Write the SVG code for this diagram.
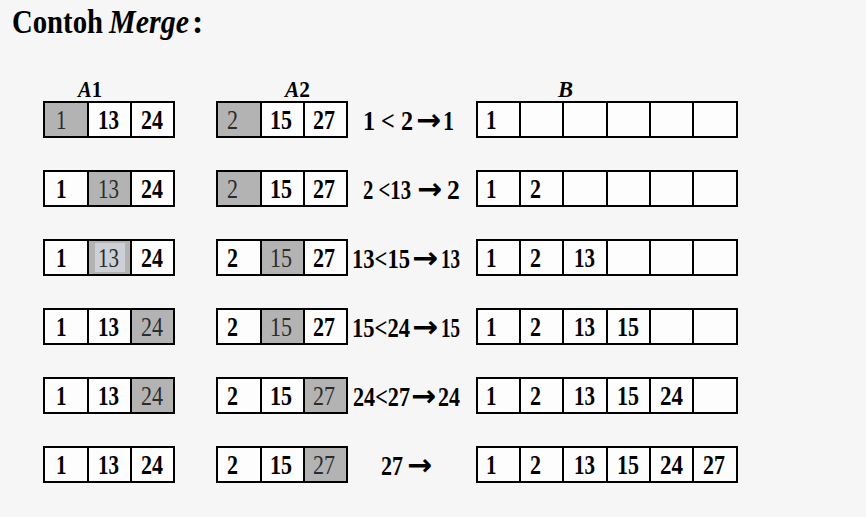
<svg xmlns="http://www.w3.org/2000/svg" width="866" height="517" viewBox="0 0 866 517">
<style>
.bg{fill:#f6f6f6}
.c{fill:#fdfdfd;stroke:#000;stroke-width:2}
.h{fill:#b3b3b3}
.hl{fill:#cdd1d5}
text{font-family:"Liberation Serif","Times New Roman",serif;}
.n{font-size:28px;font-weight:bold;fill:#000}
.g{font-size:28px;font-weight:normal;fill:#2b2b2b}
.cmp{font-size:28px;font-weight:bold;fill:#000}
.ar{font-family:"DejaVu Sans",sans-serif;font-size:30px;font-weight:bold;fill:#000}
.lab{font-size:23px;font-weight:bold;fill:#000}
.title{font-size:34px;font-weight:bold;fill:#000}
</style>
<rect class="bg" x="0" y="0" width="866" height="517"/>
<g id="title">
<text class="title" transform="translate(12 33) scale(0.84 1)" textLength="108.3" lengthAdjust="spacingAndGlyphs">Contoh</text>
<text class="title" transform="translate(109 33) scale(0.84 1)" textLength="95.2" lengthAdjust="spacingAndGlyphs" font-style="italic">Merge</text>
<text class="title" x="192" y="33">:</text>
</g>
<g id="labels">
<text class="lab" x="78" y="97" textLength="24" lengthAdjust="spacingAndGlyphs"><tspan font-style="italic">A</tspan>1</text>
<text class="lab" x="285" y="97" textLength="25" lengthAdjust="spacingAndGlyphs"><tspan font-style="italic">A</tspan>2</text>
<text class="lab" x="558" y="97" textLength="15" lengthAdjust="spacingAndGlyphs" font-style="italic">B</text>
</g>

<!-- Row 1 -->
<g id="row1-A1">
<rect class="c" x="44" y="102" width="44" height="35"/><rect class="c" x="88" y="102" width="43" height="35"/><rect class="c" x="131" y="102" width="43" height="35"/>
<rect class="h" x="45" y="103" width="42" height="33"/>
<text class="g" x="56" y="129" textLength="10.5" lengthAdjust="spacingAndGlyphs">1</text>
<text class="n" x="98" y="129" textLength="21" lengthAdjust="spacingAndGlyphs">13</text>
<text class="n" x="141" y="129" textLength="22" lengthAdjust="spacingAndGlyphs">24</text>
</g>
<g id="row1-A2">
<rect class="c" x="217" y="102" width="44" height="35"/><rect class="c" x="261" y="102" width="43" height="35"/><rect class="c" x="304" y="102" width="43" height="35"/>
<rect class="h" x="218" y="103" width="42" height="33"/>
<text class="g" x="227" y="129" textLength="11" lengthAdjust="spacingAndGlyphs">2</text>
<text class="n" x="270" y="129" textLength="22" lengthAdjust="spacingAndGlyphs">15</text>
<text class="n" x="313" y="129" textLength="22" lengthAdjust="spacingAndGlyphs">27</text>
</g>
<g id="cmp1">
<text class="cmp" transform="translate(363 130) scale(0.8 1)" textLength="62.5" lengthAdjust="spacingAndGlyphs">1 &lt; 2</text>
<text class="ar" x="416" y="130" textLength="25" lengthAdjust="spacingAndGlyphs">→</text>
<text class="cmp" transform="translate(443 130) scale(0.8 1)" textLength="13.8" lengthAdjust="spacingAndGlyphs">1</text>
</g>
<g id="row1-B">
<rect class="c" x="477" y="102" width="43" height="35"/><rect class="c" x="520" y="102" width="43" height="35"/><rect class="c" x="563" y="102" width="44" height="35"/><rect class="c" x="607" y="102" width="43" height="35"/><rect class="c" x="650" y="102" width="43" height="35"/><rect class="c" x="693" y="102" width="44" height="35"/>
<text class="n" x="486" y="129" textLength="10.5" lengthAdjust="spacingAndGlyphs">1</text>
</g>

<!-- Row 2 -->
<g id="row2-A1">
<rect class="c" x="44" y="171" width="44" height="35"/><rect class="c" x="88" y="171" width="43" height="35"/><rect class="c" x="131" y="171" width="43" height="35"/>
<rect class="h" x="89" y="172" width="41" height="33"/>
<text class="n" x="56" y="198" textLength="10.5" lengthAdjust="spacingAndGlyphs">1</text>
<text class="g" x="98" y="198" textLength="21" lengthAdjust="spacingAndGlyphs">13</text>
<text class="n" x="141" y="198" textLength="22" lengthAdjust="spacingAndGlyphs">24</text>
</g>
<g id="row2-A2">
<rect class="c" x="217" y="171" width="44" height="35"/><rect class="c" x="261" y="171" width="43" height="35"/><rect class="c" x="304" y="171" width="43" height="35"/>
<rect class="h" x="218" y="172" width="42" height="33"/>
<text class="g" x="227" y="198" textLength="11" lengthAdjust="spacingAndGlyphs">2</text>
<text class="n" x="270" y="198" textLength="22" lengthAdjust="spacingAndGlyphs">15</text>
<text class="n" x="313" y="198" textLength="22" lengthAdjust="spacingAndGlyphs">27</text>
</g>
<g id="cmp2">
<text class="cmp" transform="translate(363 199) scale(0.8 1)" textLength="60" lengthAdjust="spacingAndGlyphs">2 &lt;13</text>
<text class="ar" x="417" y="199" textLength="25" lengthAdjust="spacingAndGlyphs">→</text>
<text class="cmp" transform="translate(447 199) scale(0.8 1)" textLength="16" lengthAdjust="spacingAndGlyphs">2</text>
</g>
<g id="row2-B">
<rect class="c" x="477" y="171" width="43" height="35"/><rect class="c" x="520" y="171" width="43" height="35"/><rect class="c" x="563" y="171" width="44" height="35"/><rect class="c" x="607" y="171" width="43" height="35"/><rect class="c" x="650" y="171" width="43" height="35"/><rect class="c" x="693" y="171" width="44" height="35"/>
<text class="n" x="486" y="198" textLength="10.5" lengthAdjust="spacingAndGlyphs">1</text>
<text class="n" x="530" y="198" textLength="11" lengthAdjust="spacingAndGlyphs">2</text>
</g>

<!-- Row 3 -->
<g id="row3-A1">
<rect class="c" x="44" y="240" width="44" height="35"/><rect class="c" x="88" y="240" width="43" height="35"/><rect class="c" x="131" y="240" width="43" height="35"/>
<rect class="h" x="89" y="241" width="41" height="33"/>
<rect class="hl" x="95" y="243" width="30" height="29"/>
<text class="n" x="56" y="267" textLength="10.5" lengthAdjust="spacingAndGlyphs">1</text>
<text class="g" x="98" y="267" textLength="21" lengthAdjust="spacingAndGlyphs">13</text>
<text class="n" x="141" y="267" textLength="22" lengthAdjust="spacingAndGlyphs">24</text>
</g>
<g id="row3-A2">
<rect class="c" x="217" y="240" width="44" height="35"/><rect class="c" x="261" y="240" width="43" height="35"/><rect class="c" x="304" y="240" width="43" height="35"/>
<rect class="h" x="262" y="241" width="41" height="33"/>
<text class="n" x="227" y="267" textLength="11" lengthAdjust="spacingAndGlyphs">2</text>
<text class="g" x="270" y="267" textLength="22" lengthAdjust="spacingAndGlyphs">15</text>
<text class="n" x="313" y="267" textLength="22" lengthAdjust="spacingAndGlyphs">27</text>
</g>
<g id="cmp3">
<text class="cmp" transform="translate(352 268) scale(0.8 1)" textLength="72.5" lengthAdjust="spacingAndGlyphs">13&lt;15</text>
<text class="ar" x="412" y="268" textLength="26" lengthAdjust="spacingAndGlyphs">→</text>
<text class="cmp" transform="translate(441 268) scale(0.8 1)" textLength="23.8" lengthAdjust="spacingAndGlyphs">13</text>
</g>
<g id="row3-B">
<rect class="c" x="477" y="240" width="43" height="35"/><rect class="c" x="520" y="240" width="43" height="35"/><rect class="c" x="563" y="240" width="44" height="35"/><rect class="c" x="607" y="240" width="43" height="35"/><rect class="c" x="650" y="240" width="43" height="35"/><rect class="c" x="693" y="240" width="44" height="35"/>
<text class="n" x="486" y="267" textLength="10.5" lengthAdjust="spacingAndGlyphs">1</text>
<text class="n" x="530" y="267" textLength="11" lengthAdjust="spacingAndGlyphs">2</text>
<text class="n" x="574" y="267" textLength="21" lengthAdjust="spacingAndGlyphs">13</text>
</g>

<!-- Row 4 -->
<g id="row4-A1">
<rect class="c" x="44" y="309" width="44" height="35"/><rect class="c" x="88" y="309" width="43" height="35"/><rect class="c" x="131" y="309" width="43" height="35"/>
<rect class="h" x="132" y="310" width="41" height="33"/>
<text class="n" x="56" y="336" textLength="10.5" lengthAdjust="spacingAndGlyphs">1</text>
<text class="n" x="98" y="336" textLength="21" lengthAdjust="spacingAndGlyphs">13</text>
<text class="g" x="141" y="336" textLength="22" lengthAdjust="spacingAndGlyphs">24</text>
</g>
<g id="row4-A2">
<rect class="c" x="217" y="309" width="44" height="35"/><rect class="c" x="261" y="309" width="43" height="35"/><rect class="c" x="304" y="309" width="43" height="35"/>
<rect class="h" x="262" y="310" width="41" height="33"/>
<text class="n" x="227" y="336" textLength="11" lengthAdjust="spacingAndGlyphs">2</text>
<text class="g" x="270" y="336" textLength="22" lengthAdjust="spacingAndGlyphs">15</text>
<text class="n" x="313" y="336" textLength="22" lengthAdjust="spacingAndGlyphs">27</text>
</g>
<g id="cmp4">
<text class="cmp" transform="translate(352 337) scale(0.8 1)" textLength="72.5" lengthAdjust="spacingAndGlyphs">15&lt;24</text>
<text class="ar" x="412" y="337" textLength="26" lengthAdjust="spacingAndGlyphs">→</text>
<text class="cmp" transform="translate(441 337) scale(0.8 1)" textLength="23.8" lengthAdjust="spacingAndGlyphs">15</text>
</g>
<g id="row4-B">
<rect class="c" x="477" y="309" width="43" height="35"/><rect class="c" x="520" y="309" width="43" height="35"/><rect class="c" x="563" y="309" width="44" height="35"/><rect class="c" x="607" y="309" width="43" height="35"/><rect class="c" x="650" y="309" width="43" height="35"/><rect class="c" x="693" y="309" width="44" height="35"/>
<text class="n" x="486" y="336" textLength="10.5" lengthAdjust="spacingAndGlyphs">1</text>
<text class="n" x="530" y="336" textLength="11" lengthAdjust="spacingAndGlyphs">2</text>
<text class="n" x="574" y="336" textLength="21" lengthAdjust="spacingAndGlyphs">13</text>
<text class="n" x="617" y="336" textLength="22" lengthAdjust="spacingAndGlyphs">15</text>
</g>

<!-- Row 5 -->
<g id="row5-A1">
<rect class="c" x="44" y="378" width="44" height="35"/><rect class="c" x="88" y="378" width="43" height="35"/><rect class="c" x="131" y="378" width="43" height="35"/>
<rect class="h" x="132" y="379" width="41" height="33"/>
<text class="n" x="56" y="405" textLength="10.5" lengthAdjust="spacingAndGlyphs">1</text>
<text class="n" x="98" y="405" textLength="21" lengthAdjust="spacingAndGlyphs">13</text>
<text class="g" x="141" y="405" textLength="22" lengthAdjust="spacingAndGlyphs">24</text>
</g>
<g id="row5-A2">
<rect class="c" x="217" y="378" width="44" height="35"/><rect class="c" x="261" y="378" width="43" height="35"/><rect class="c" x="304" y="378" width="43" height="35"/>
<rect class="h" x="305" y="379" width="41" height="33"/>
<text class="n" x="227" y="405" textLength="11" lengthAdjust="spacingAndGlyphs">2</text>
<text class="n" x="270" y="405" textLength="22" lengthAdjust="spacingAndGlyphs">15</text>
<text class="g" x="313" y="405" textLength="22" lengthAdjust="spacingAndGlyphs">27</text>
</g>
<g id="cmp5">
<text class="cmp" transform="translate(353 406) scale(0.8 1)" textLength="71.3" lengthAdjust="spacingAndGlyphs">24&lt;27</text>
<text class="ar" x="411" y="406" textLength="25" lengthAdjust="spacingAndGlyphs">→</text>
<text class="cmp" transform="translate(438 406) scale(0.8 1)" textLength="27.5" lengthAdjust="spacingAndGlyphs">24</text>
</g>
<g id="row5-B">
<rect class="c" x="477" y="378" width="43" height="35"/><rect class="c" x="520" y="378" width="43" height="35"/><rect class="c" x="563" y="378" width="44" height="35"/><rect class="c" x="607" y="378" width="43" height="35"/><rect class="c" x="650" y="378" width="43" height="35"/><rect class="c" x="693" y="378" width="44" height="35"/>
<text class="n" x="486" y="405" textLength="10.5" lengthAdjust="spacingAndGlyphs">1</text>
<text class="n" x="530" y="405" textLength="11" lengthAdjust="spacingAndGlyphs">2</text>
<text class="n" x="574" y="405" textLength="21" lengthAdjust="spacingAndGlyphs">13</text>
<text class="n" x="617" y="405" textLength="22" lengthAdjust="spacingAndGlyphs">15</text>
<text class="n" x="660" y="405" textLength="23" lengthAdjust="spacingAndGlyphs">24</text>
</g>

<!-- Row 6 -->
<g id="row6-A1">
<rect class="c" x="44" y="447" width="44" height="35"/><rect class="c" x="88" y="447" width="43" height="35"/><rect class="c" x="131" y="447" width="43" height="35"/>
<text class="n" x="56" y="474" textLength="10.5" lengthAdjust="spacingAndGlyphs">1</text>
<text class="n" x="98" y="474" textLength="21" lengthAdjust="spacingAndGlyphs">13</text>
<text class="n" x="141" y="474" textLength="22" lengthAdjust="spacingAndGlyphs">24</text>
</g>
<g id="row6-A2">
<rect class="c" x="217" y="447" width="44" height="35"/><rect class="c" x="261" y="447" width="43" height="35"/><rect class="c" x="304" y="447" width="43" height="35"/>
<rect class="h" x="305" y="448" width="41" height="33"/>
<text class="n" x="227" y="474" textLength="11" lengthAdjust="spacingAndGlyphs">2</text>
<text class="n" x="270" y="474" textLength="22" lengthAdjust="spacingAndGlyphs">15</text>
<text class="g" x="313" y="474" textLength="22" lengthAdjust="spacingAndGlyphs">27</text>
</g>
<g id="cmp6">
<text class="cmp" transform="translate(381 475) scale(0.8 1)" textLength="27.5" lengthAdjust="spacingAndGlyphs">27</text>
<text class="ar" x="407" y="475" textLength="25" lengthAdjust="spacingAndGlyphs">→</text>
</g>
<g id="row6-B">
<rect class="c" x="477" y="447" width="43" height="35"/><rect class="c" x="520" y="447" width="43" height="35"/><rect class="c" x="563" y="447" width="44" height="35"/><rect class="c" x="607" y="447" width="43" height="35"/><rect class="c" x="650" y="447" width="43" height="35"/><rect class="c" x="693" y="447" width="44" height="35"/>
<text class="n" x="486" y="474" textLength="10.5" lengthAdjust="spacingAndGlyphs">1</text>
<text class="n" x="530" y="474" textLength="11" lengthAdjust="spacingAndGlyphs">2</text>
<text class="n" x="574" y="474" textLength="21" lengthAdjust="spacingAndGlyphs">13</text>
<text class="n" x="617" y="474" textLength="22" lengthAdjust="spacingAndGlyphs">15</text>
<text class="n" x="660" y="474" textLength="23" lengthAdjust="spacingAndGlyphs">24</text>
<text class="n" x="703" y="474" textLength="22" lengthAdjust="spacingAndGlyphs">27</text>
</g>
</svg>
